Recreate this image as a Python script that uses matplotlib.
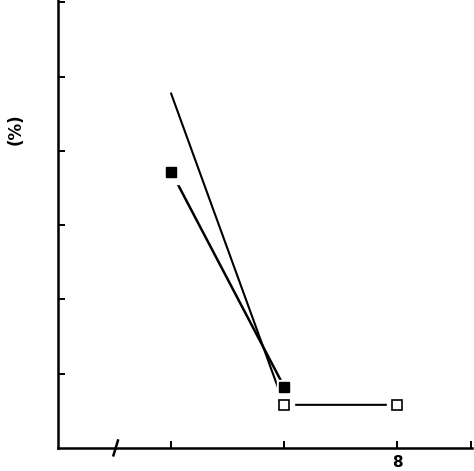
import matplotlib.pyplot as plt
import numpy as np

# values
x_filled = [6, 7]
y_filled = [37.2, 8.2]
x_open = [6, 7, 8]
y_open = [47.7, 5.8, 5.8]
xtick_pos = [6, 7, 8, 8.65]
xtick_lab = ["", "", "8", ""]
ytick_pos = [10, 20, 30, 40, 50, 60]

fig = plt.figure(figsize=(4.74, 4.71), dpi=100)
ax = fig.add_axes([0.1224, 0.049, 0.8734, 0.951])

ax.set_xlim(5.0, 8.66)
ax.set_ylim(0, 60.3)

# lines, then a white halo under the markers so the line stops short
ax.plot(x_open, y_open, color="black", lw=1.5, zorder=2)
ax.plot(x_filled, y_filled, color="black", lw=1.8, zorder=2)
ax.plot(x_open[1:], y_open[1:], "s", ms=14, color="white", mec="white", zorder=3)
ax.plot(x_filled[:1], y_filled[:1], "s", ms=17, color="white", mec="white", zorder=3)
ax.plot(x_filled[1:], y_filled[1:], "s", ms=10, color="white", mec="white", zorder=3)
ax.plot(x_filled, y_filled, "s", ms=6.5, color="black", mec="black", zorder=4)
ax.plot(x_open[1:], y_open[1:], "s", ms=6.5, mfc="white", mec="black",
        mew=1.2, zorder=4)

for s in ["top", "right"]:
    ax.spines[s].set_visible(False)
for s in ["left", "bottom"]:
    ax.spines[s].set_linewidth(1.8)

ax.set_xticks(xtick_pos)
ax.set_xticklabels(xtick_lab, fontsize=11, fontweight="bold")
ax.set_yticks(ytick_pos)
ax.set_yticklabels([])
ax.tick_params(direction="in", length=5, width=1.4, pad=5)

# axis break mark
ax.plot([5.49, 5.53], [-1.0, 1.0], color="black", lw=1.8, clip_on=False)

fig.text(0.032, 0.725, "(%)", rotation=90, fontsize=12, fontweight="bold",
         ha="center", va="center")

fig.savefig("out.png", dpi=100)
